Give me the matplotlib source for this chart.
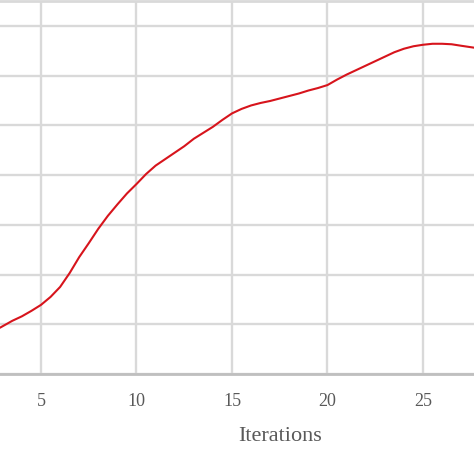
import matplotlib
matplotlib.use("Agg")
import matplotlib.pyplot as plt

# Data (y in gridline units; y-axis labels not visible)
iterations = [2.85, 3.5, 4, 4.5, 5, 5.5, 6, 6.5, 7, 7.5, 8, 8.5, 9, 9.5, 10, 10.5,
              11, 11.5, 12, 12.5, 13, 13.5, 14, 14.5, 15, 15.5, 16, 16.5, 17, 17.5,
              18, 18.5, 19, 19.5, 20, 20.5, 21, 21.5, 22, 22.5, 23, 23.5, 24, 24.5,
              25, 25.5, 26, 26.5, 27, 27.7]
values = [0.93, 1.07, 1.16, 1.27, 1.39, 1.55, 1.75, 2.03, 2.35, 2.63, 2.92, 3.18,
          3.41, 3.63, 3.82, 4.02, 4.19, 4.32, 4.45, 4.58, 4.73, 4.85, 4.97, 5.11,
          5.24, 5.33, 5.40, 5.45, 5.49, 5.54, 5.59, 5.64, 5.70, 5.75, 5.81, 5.92,
          6.02, 6.11, 6.20, 6.29, 6.38, 6.47, 6.54, 6.59, 6.62, 6.64, 6.64, 6.63,
          6.60, 6.56]
x_ticks = [5, 10, 15, 20, 25]
y_ticks = [0, 1, 2, 3, 4, 5, 6, 7]

fig = plt.figure(figsize=(4.74, 4.74), dpi=100)
W = H = 474.0
px_per_unit = 19.1
left_px = 41 - 5 * px_per_unit
ax = fig.add_axes([left_px / W, (H - 374) / H, 35 * px_per_unit / W, 373 / H])

ax.plot(iterations, values, color="#d7141c", linewidth=1.5,
        solid_capstyle="round", solid_joinstyle="round")

ax.set_xlim(0, 35)
ax.set_ylim(0, 7.5)
ax.set_xticks(x_ticks)
ax.set_yticks(y_ticks)
ax.set_yticklabels([])
ax.grid(True, color="#d9d9d9", linewidth=1.7)
ax.set_axisbelow(True)

for s in ["left", "right"]:
    ax.spines[s].set_visible(False)
ax.spines["bottom"].set_color("#bfbfbf")
ax.spines["bottom"].set_linewidth(2.0)
ax.spines["top"].set_color("#d9d9d9")
ax.spines["top"].set_linewidth(2.0)

ax.tick_params(axis="x", length=0, pad=14, labelsize=13, labelcolor="#595959")
ax.tick_params(axis="y", length=0)
for lab in ax.get_xticklabels():
    lab.set_fontfamily("Liberation Serif")

ax.set_xlabel("Iterations", fontsize=16, color="#595959", family="Liberation Serif",
              labelpad=12)

fig.savefig("out.png", dpi=100)
